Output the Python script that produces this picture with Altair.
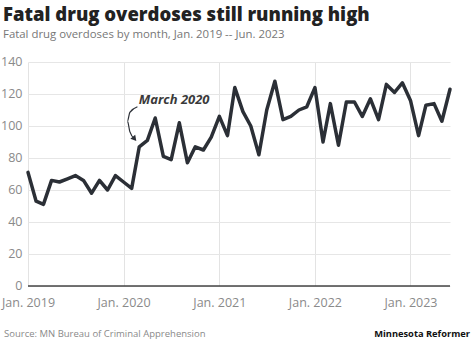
import altair as alt
import pandas as pd

# Monthly fatal overdose counts, Jan. 2019 through Jun. 2023
months = pd.date_range("2019-01-01", "2023-06-01", freq="MS").strftime("%Y-%m-%d").tolist()
deaths = [
    71, 53, 51, 66, 65, 67, 69, 66, 58, 66, 60, 69,      # 2019
    65, 61, 87, 91, 105, 81, 79, 102, 77, 87, 85, 93,    # 2020
    106, 94, 124, 109, 100, 82, 110, 128, 104, 106, 110, 112,  # 2021
    124, 90, 114, 88, 115, 115, 106, 117, 104, 126, 121, 127,  # 2022
    116, 94, 113, 114, 103, 123,                         # 2023
]
year_ticks = ["2019-01-01", "2020-01-01", "2021-01-01", "2022-01-01", "2023-01-01"]
y_ticks = [0, 20, 40, 60, 80, 100, 120, 140]

title_text = "Fatal drug overdoses still running high"
subtitle_text = "Fatal drug overdoses by month, Jan. 2019 -- Jun. 2023"
source_text = "Source: MN Bureau of Criminal Apprehension"
credit_text = "Minnesota Reformer"
note_text = "March 2020"

# Curved arrow pointing at the March 2020 jump
arrow_date = ["2020-02-23", "2020-01-25", "2020-01-16", "2020-01-25", "2020-02-12"]
arrow_val = [112, 108.5, 103, 96.5, 92]

FONT = "Open Sans"
INK = "#2b2f36"
GREY = "#8a8a8a"

df = pd.DataFrame({"month": months, "deaths": deaths})

x_scale = alt.Scale(domain=["2019-01-01", "2023-06-01"])
y_scale = alt.Scale(domain=[0, 140], nice=False, zero=True)

x_axis = alt.Axis(
    values=year_ticks,
    labelExpr="'Jan. ' + timeFormat(datum.value, '%Y')",
    title=None,
    grid=True,
    gridColor="#e3e3e3",
    ticks=False,
    domain=False,
    labelColor=GREY,
    labelFont=FONT,
    labelFontSize=12.5,
    labelPadding=10,
    labelFlush=False,
    labelOverlap=False,
)
y_axis = alt.Axis(
    values=y_ticks,
    title=None,
    grid=True,
    gridColor="#e6e6e6",
    ticks=False,
    domain=False,
    labelColor=GREY,
    labelFont=FONT,
    labelFontSize=12.5,
    labelPadding=6,
    labelOffset=-1,
    labelOverlap=False,
    labelFlush=False,
)


def xy(xfield, yfield):
    return dict(
        x=alt.X(xfield, scale=x_scale, axis=x_axis),
        y=alt.Y(yfield, scale=y_scale, axis=y_axis),
    )


line = alt.Chart(df).mark_line(
    color=INK, strokeWidth=3.5, strokeJoin="round", strokeCap="round"
).encode(**xy("month:T", "deaths:Q"))

zero_line = alt.Chart(pd.DataFrame({"v": [0]})).mark_rule(
    color="#444", strokeWidth=1.5
).encode(y=alt.Y("v:Q", scale=y_scale, axis=y_axis))

arrow_df = pd.DataFrame({"month": arrow_date, "deaths": arrow_val})
arrow = alt.Chart(arrow_df).mark_line(
    color=INK, strokeWidth=1.2, interpolate="monotone"
).encode(**xy("month:T", "deaths:Q"), order=alt.Order("deaths:Q", sort="descending"))
arrow_head = alt.Chart(arrow_df.tail(1)).mark_point(
    shape="triangle-down", filled=True, color=INK, size=40, angle=320, opacity=1
).encode(**xy("month:T", "deaths:Q"))

note = alt.Chart(
    pd.DataFrame({"month": ["2020-02-28"], "deaths": [116], "t": [note_text]})
).mark_text(
    align="left", baseline="middle", font=FONT, fontSize=13, fontWeight="bold",
    fontStyle="italic", color="#3a3a3a"
).encode(**xy("month:T", "deaths:Q"), text="t:N")


def label(text, x, y, size, weight="normal", color=GREY, align="left"):
    return alt.Chart(pd.DataFrame({"t": [text]})).mark_text(
        align=align, baseline="alphabetic", font=FONT, fontSize=size,
        fontWeight=weight, color=color
    ).encode(x=alt.value(x), y=alt.value(y), text="t:N")


title = label(title_text, -25, -41, 18.5, 800, "#222")
subtitle = label(subtitle_text, -25, -24, 11.4, "normal", "#777")
source = label(source_text, -24, 275, 9.5, "normal", GREY)
credit = label(credit_text, 442, 275, 9.3, "bold", "#111", "right")

chart = alt.layer(
    line, zero_line, arrow, arrow_head, note, title, subtitle, source, credit
).properties(
    width=422,
    height=224,
    padding={"left": 28, "top": 62, "right": 24, "bottom": 56},
    autosize=alt.AutoSizeParams(type="none"),
    background="white",
).configure_view(stroke=None)

chart.save("out.html", embed_options={"renderer": "svg", "actions": False})
